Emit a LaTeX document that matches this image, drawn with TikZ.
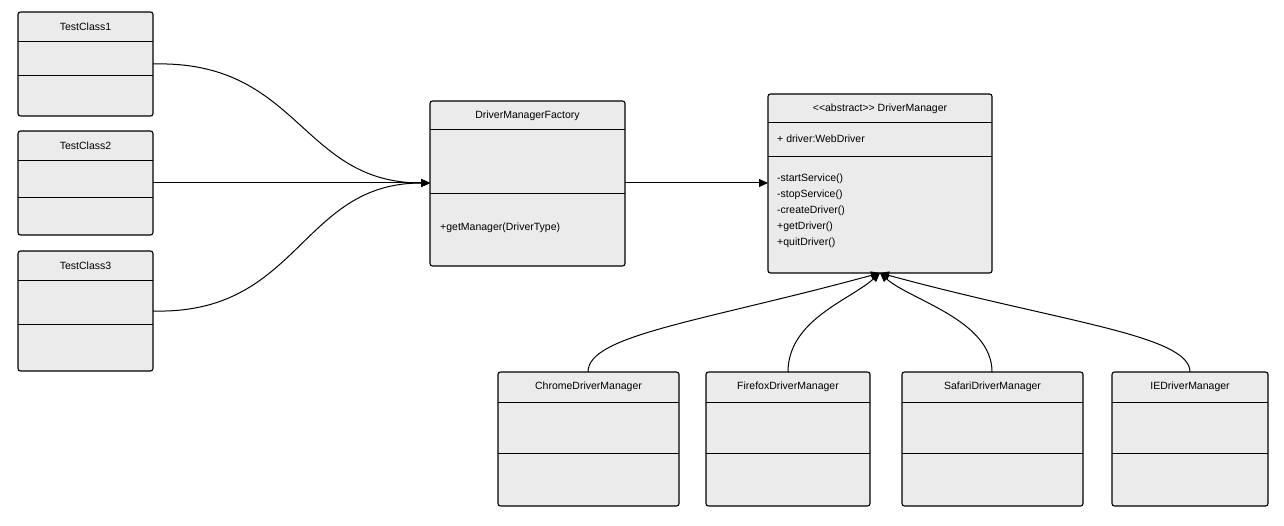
\documentclass[tikz,border=0pt]{standalone}
\usepackage{fontspec}
\setmainfont{Liberation Sans}
\usetikzlibrary{arrows.meta}
\begin{document}
\begin{tikzpicture}[x=1pt,y=-1pt,
  box/.style={draw=black,line width=1.1pt,rounded corners=2.5pt,fill=black!8,inner sep=0pt},
  conn/.style={line width=1pt,-{Triangle[length=9pt,width=8pt]}},
  lbl/.style={font=\fontsize{10.5}{12}\selectfont,inner sep=0pt},
  every node/.style={}]
\useasboundingbox (0,0) rectangle (1284,526);
\newcommand{\umlbox}[8]{%
  \node[box,minimum width={#4-#2},minimum height={#5-#3}] (#1) at ({(#2+#4)/2},{(#3+#5)/2}) {};
  \draw[line width=1pt] (#2,#6) -- (#4,#6);
  \draw[line width=1pt] (#2,#7) -- (#4,#7);
  \node[lbl] (#1t) at ({(#2+#4)/2},{(#3+#6)/2}) {#8};}
\umlbox{tc1}{18}{12}{153}{116}{42}{76}{TestClass1}
\umlbox{tc2}{18}{131}{153}{235}{161}{198}{TestClass2}
\umlbox{tc3}{18}{251}{153}{371}{281}{325}{TestClass3}
\umlbox{fac}{430}{101}{625}{266}{130}{194}{DriverManagerFactory}
\node[lbl,anchor=west] (facm) at (440,228) {+getManager(DriverType)};
\umlbox{dm}{768}{94}{992}{273}{123}{157}{<{}<abstract>{}> DriverManager}
\node[lbl,anchor=west] (dma) at (777,139) {+ driver:WebDriver};
\node[lbl,anchor=north west,align=left,font=\fontsize{10.5}{16}\selectfont] (dmm) at (777,174) {-startService()\\-stopService()\\-createDriver()\\+getDriver()\\+quitDriver()};
\umlbox{cdm}{498}{372}{679}{506}{402}{453}{ChromeDriverManager}
\umlbox{fdm}{706}{372}{870}{506}{402}{453}{FirefoxDriverManager}
\umlbox{sdm}{902}{372}{1083}{506}{402}{453}{SafariDriverManager}
\umlbox{idm}{1112}{372}{1268}{506}{402}{453}{IEDriverManager}
\coordinate (fin) at (430,183);
\coordinate (dtop) at (880,273);
\draw[conn] (153,64) .. controls (300,60) and (300,183) .. (fin);
\draw[conn] (153,183) -- (fin);
\draw[conn] (153,311) .. controls (300,315) and (300,183) .. (fin);
\draw[conn] (625,183) -- (768,183);
\draw[conn] (588,372) .. controls (588,335) and (700,322) .. (dtop);
\draw[conn] (788,372) .. controls (788,320) and (850,300) .. (dtop);
\draw[conn] (992,372) .. controls (992,320) and (910,300) .. (dtop);
\draw[conn] (1190,372) .. controls (1190,335) and (1060,322) .. (dtop);
\end{tikzpicture}
\end{document}
